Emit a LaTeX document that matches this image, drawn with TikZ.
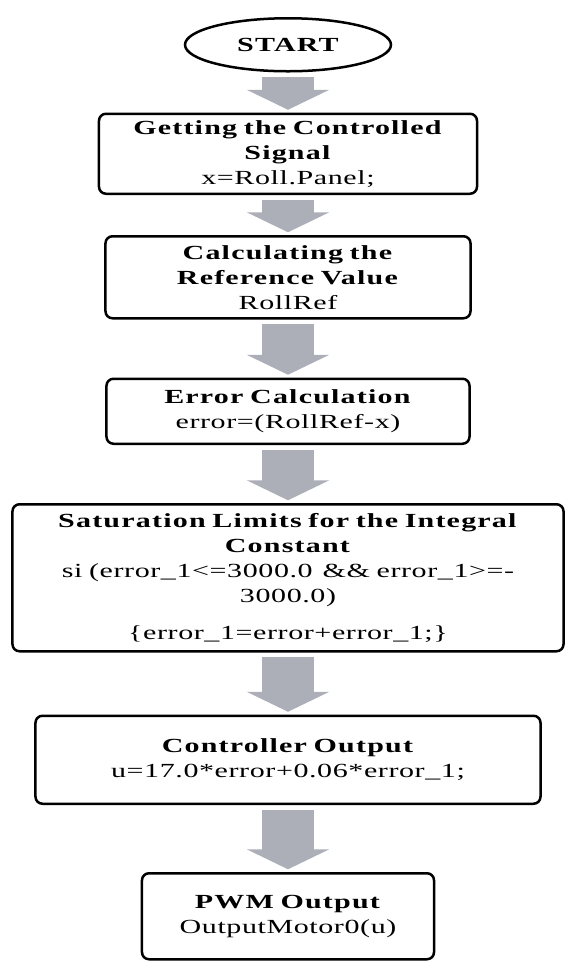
\documentclass[tikz,border=0pt]{standalone}
\usepackage{fontspec}
\setmainfont{Liberation Serif}[FakeStretch=1.5,LetterSpace=3,BoldFeatures={LetterSpace=6}]
\usepackage{tikz}
\usetikzlibrary{arrows.meta,shapes.geometric,matrix}

\definecolor{arrowgray}{RGB}{172,174,184}

\begin{document}
\begin{tikzpicture}[terminal/.style={ellipse,draw,line width=2.5pt,minimum width=206pt,minimum height=53pt,inner sep=0pt,font=\fontsize{20pt}{25pt}\selectfont\bfseries}, process/.style={rectangle,draw,line width=2.5pt,rounded corners=7pt,inner sep=4pt,align=center,font=\fontsize{20pt}{25pt}\selectfont}, flow/.style={draw=arrowgray,line width=52pt,-{Triangle[length=20pt,width=82pt]},shorten <=6pt,shorten >=4pt}]
\useasboundingbox (0,0) rectangle (574pt,-961pt);
\matrix[row sep=40pt,inner sep=0pt,outer sep=0pt,anchor=north] at (288pt,-17pt)
{
\node(start)[terminal]{START};\\
\node(get)[process,text width=370pt,minimum height=80pt]{\textbf{Getting the Controlled}\\\textbf{Signal}\\x=Roll.Panel;};\\
\node(calc)[process,text width=357pt,minimum height=82pt]{\textbf{Calculating the}\\\textbf{Reference Value}\\RollRef};\\[18pt]
\node(err)[process,text width=355pt,minimum height=65pt]{\textbf{Error Calculation}\\error=(RollRef-x)};\\[18pt]
\node(sat)[process,text width=543pt,minimum height=147pt]{\textbf{Saturation Limits for the Integral}\\\textbf{Constant}\\si (error\_1<=3000.0\enspace\&\& error\_1>=-\\3000.0)\\[12pt]\{error\_1=error+error\_1;\}};\\[22pt]
\node(ctrl)[process,text width=497pt,minimum height=88pt]{\textbf{Controller Output}\\u=17.0*error+0.06*error\_1;};\\[27pt]
\node(pwm)[process,text width=284pt,minimum height=86pt]{\textbf{PWM Output}\\OutputMotor0(u)};\\
};

\draw [flow] (start) -- (get);
\draw [flow] (get) -- (calc);
\draw [flow] (calc) -- (err);
\draw [flow] (err) -- (sat);
\draw [flow] (sat) -- (ctrl);
\draw [flow] (ctrl) -- (pwm);
\end{tikzpicture}
\end{document}
